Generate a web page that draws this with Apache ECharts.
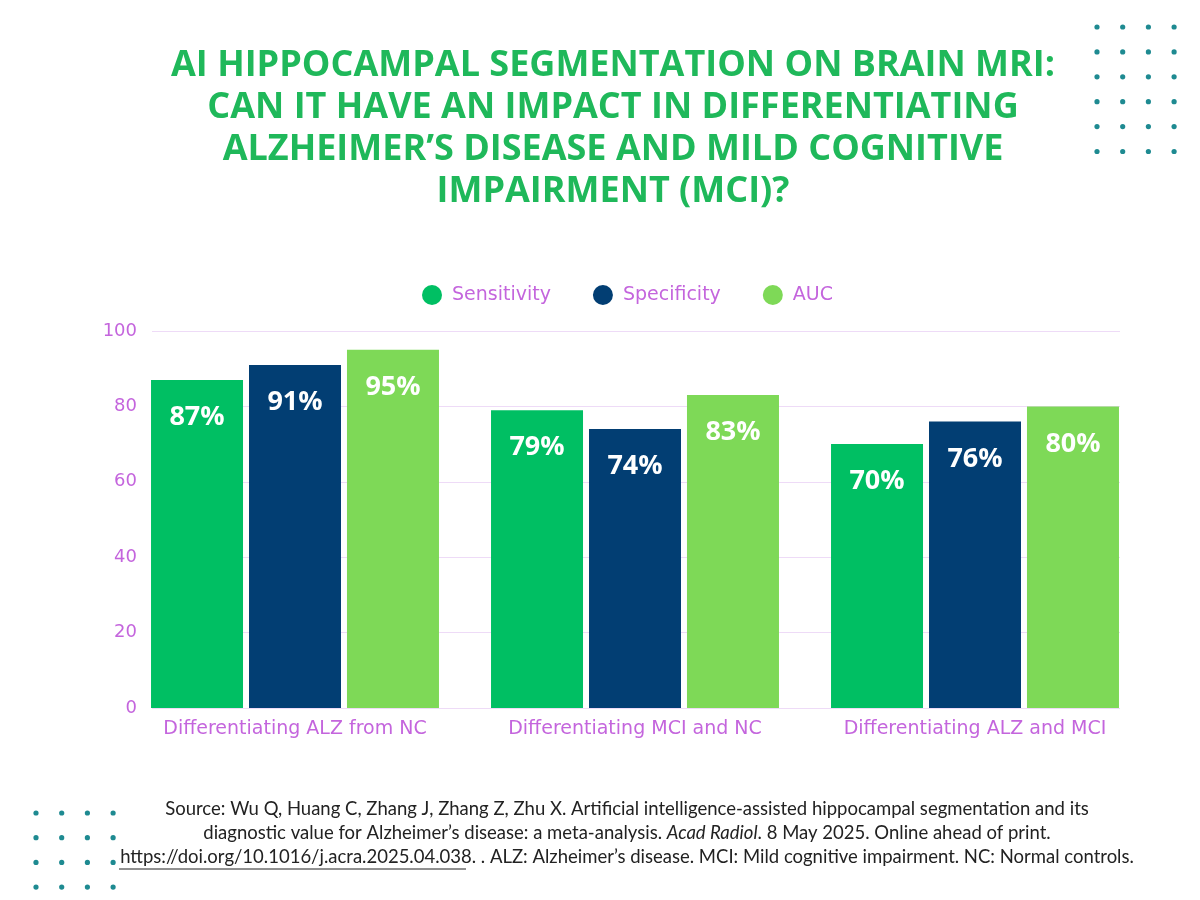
<!DOCTYPE html>
<html>
<head>
<meta charset="utf-8">
<script src="https://cdn.jsdelivr.net/npm/echarts@6/dist/echarts.min.js"></script>
<style>html,body{margin:0;padding:0;background:#fff}#c{width:1200px;height:900px}</style>
</head>
<body>
<div id="c"></div>
<script>
var categories = ['Differentiating ALZ from NC', 'Differentiating MCI and NC', 'Differentiating ALZ and MCI'];
var sensitivity = [87, 79, 70];
var specificity = [91, 74, 76];
var auc = [95, 83, 80];
var yTicks = [0, 20, 40, 60, 80, 100];

var titleLines = [
  'AI HIPPOCAMPAL SEGMENTATION ON BRAIN MRI:',
  'CAN IT HAVE AN IMPACT IN DIFFERENTIATING',
  'ALZHEIMER\u2019S DISEASE AND MILD COGNITIVE',
  'IMPAIRMENT (MCI)?'
];

var purple = '#c465dd';
var labelFont = '"DejaVu Sans"';
var chart = echarts.init(document.getElementById('c'));

var graphics = [];
// decorative dot grids
function dots(x0, y0, cols, rows, dx, dy) {
  for (var r = 0; r < rows; r++) for (var c = 0; c < cols; c++) {
    graphics.push({type: 'circle', shape: {cx: x0 + c * dx, cy: y0 + r * dy, r: 2.6}, style: {fill: '#1e8a91'}, silent: true});
  }
}
dots(1097, 27, 4, 6, 25.7, 24.9);
dots(36, 813, 4, 4, 25.7, 24.7);

graphics.push({
  type: 'text', x: 613, y: 45,
  style: {
    text: titleLines.join('\n'),
    font: 'bold 36px "Open Sans"',
    fill: '#1fb85a',
    textAlign: 'center',
    lineHeight: 42
  }
});

graphics.push({
  type: 'text', x: 627, y: 797,
  style: {
    text: 'Source: Wu Q, Huang C, Zhang J, Zhang Z, Zhu X. Artificial intelligence-assisted hippocampal segmentation and its\n' +
          'diagnostic value for Alzheimer\u2019s disease: a meta-analysis. {i|Acad Radiol}. 8 May 2025. Online ahead of print.\n' +
          'https://doi.org/10.1016/j.acra.2025.04.038. . ALZ: Alzheimer\u2019s disease. MCI: Mild cognitive impairment. NC: Normal controls.',
    font: '18.5px "Lato"',
    fill: '#222',
    textAlign: 'center',
    lineHeight: 24,
    rich: {i: {fontStyle: 'italic', fontFamily: 'Lato', fontSize: 18.5, fill: '#222'}}
  }
});
graphics.push({type: 'line', shape: {x1: 119, y1: 869, x2: 466, y2: 869}, style: {stroke: '#222', lineWidth: 1}});

var labelCfg = {
  show: true, position: 'insideTop', distance: 24,
  color: '#fff', fontFamily: '"Open Sans"', fontWeight: 'bold', fontSize: 27,
  formatter: '{c}%'
};

chart.setOption({
  backgroundColor: '#fff',
  animation: false,
  textStyle: {fontFamily: labelFont},
  legend: {
    left: 417, top: 280,
    icon: 'circle', itemWidth: 20, itemHeight: 20, itemGap: 42,
    textStyle: {color: purple, fontSize: 19, fontFamily: labelFont, padding: [0, 0, 0, 5]},
    data: ['Sensitivity', 'Specificity', 'AUC']
  },
  grid: [
    {left: 152, right: 80, top: 331, bottom: 192},
    {left: 125, right: 55, top: 331, bottom: 192}
  ],
  xAxis: [
    {type: 'category', gridIndex: 0, data: categories, show: false},
    {type: 'category', gridIndex: 1, data: categories,
     axisLine: {show: false}, axisTick: {show: false},
     axisLabel: {color: purple, fontSize: 19, fontFamily: labelFont, margin: 12, interval: 0, hideOverlap: false}}
  ],
  yAxis: [
    {type: 'value', gridIndex: 0, min: 0, max: 100, interval: 20,
     axisLine: {show: false}, axisTick: {show: false},
     axisLabel: {color: purple, fontSize: 18, fontFamily: labelFont, margin: 15},
     splitLine: {lineStyle: {color: '#eedbf7', width: 1}}},
    {type: 'value', gridIndex: 1, min: 0, max: 100, interval: 20, show: false, splitLine: {show: false}}
  ],
  series: [
    {name: 'Sensitivity', type: 'bar', xAxisIndex: 1, yAxisIndex: 1, data: sensitivity, barWidth: 92, barGap: '6.5%', itemStyle: {color: '#00bf63'}, label: labelCfg},
    {name: 'Specificity', type: 'bar', xAxisIndex: 1, yAxisIndex: 1, data: specificity, barWidth: 92, barGap: '6.5%', itemStyle: {color: '#023e73'}, label: labelCfg},
    {name: 'AUC', type: 'bar', xAxisIndex: 1, yAxisIndex: 1, data: auc, barWidth: 92, barGap: '6.5%', itemStyle: {color: '#7ed957'}, label: labelCfg}
  ],
  graphic: graphics
});
</script>
</body>
</html>
